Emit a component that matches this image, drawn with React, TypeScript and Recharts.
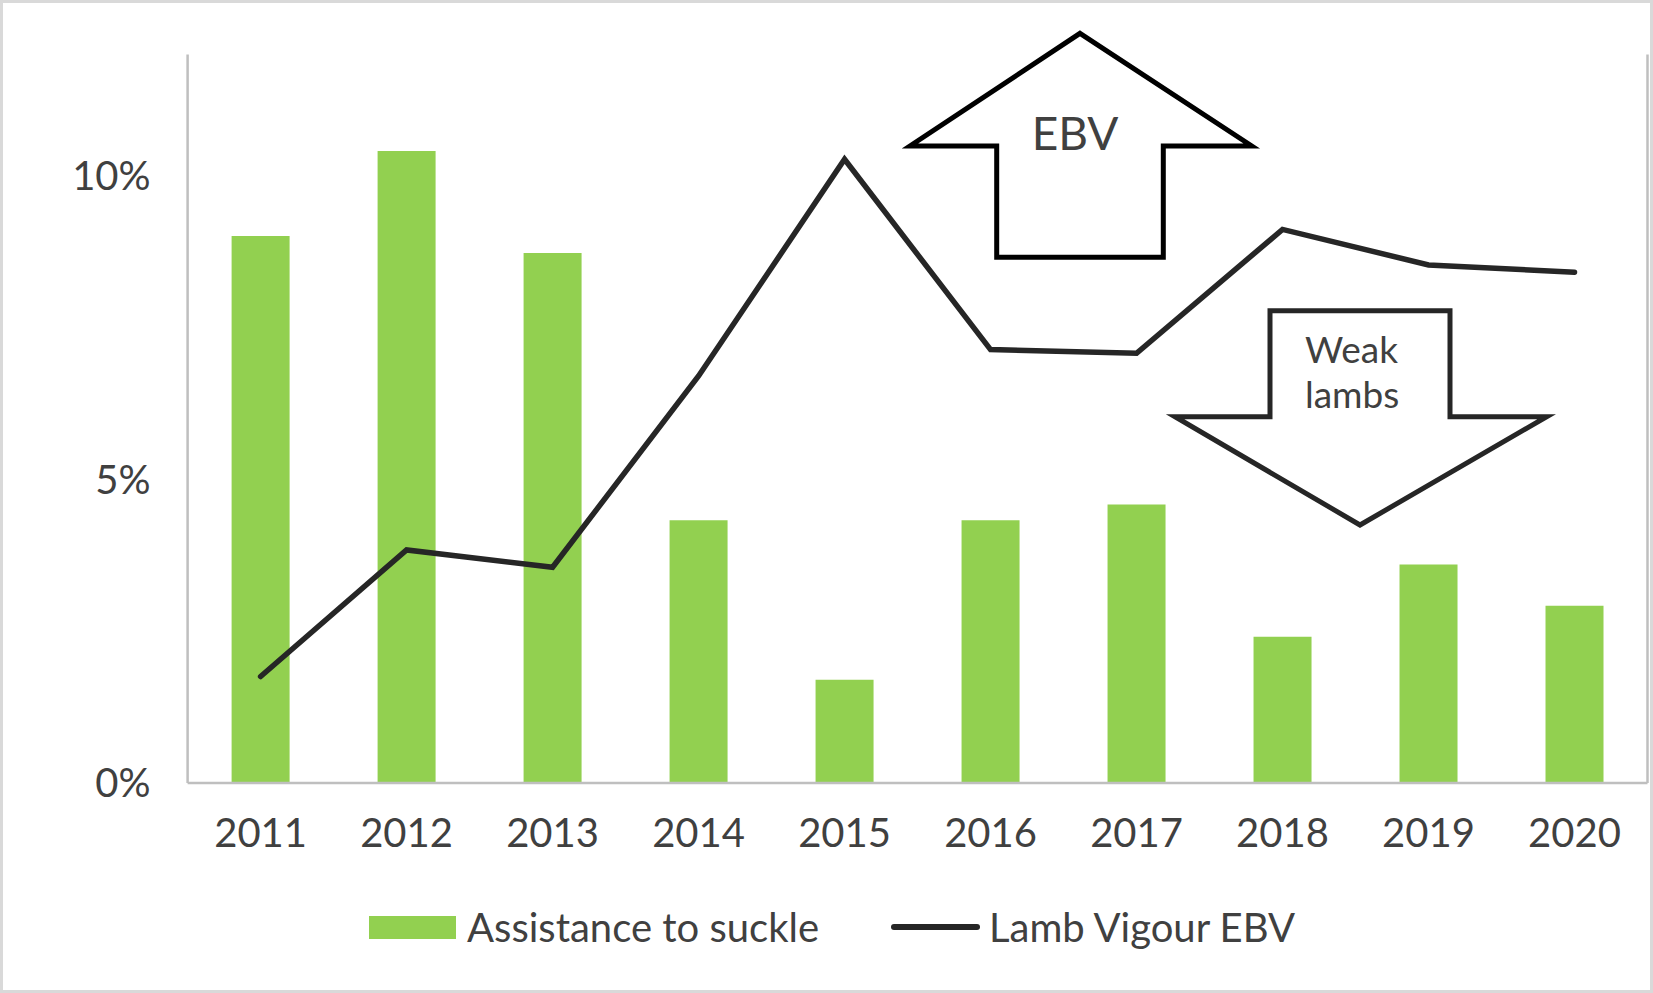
import React from 'react';
import { ComposedChart, Bar, Line, XAxis, YAxis, Legend } from 'recharts';

const years = ['2011', '2012', '2013', '2014', '2015', '2016', '2017', '2018', '2019', '2020'];
// % of lambs needing assistance to suckle
const assistanceToSuckle = [9.01, 10.41, 8.73, 4.33, 1.7, 4.33, 4.59, 2.41, 3.6, 2.92];
// lamb vigour EBV, plotted on an unlabelled right axis
const lambVigourEbv = [1.17, 2.56, 2.37, 4.47, 6.85, 4.76, 4.72, 6.08, 5.69, 5.61];
const pctTicks = [0, 5, 10];
const ebvTicks = [0, 1, 2, 3, 4, 5, 6, 7, 8];

const GREEN = '#92D050';
const DARK = '#262626';
const TEXT = '#404040';
const AXIS = '#BFBFBF';
const FONT = 'Lato, "Open Sans", sans-serif';

const data = years.map((year, i) => ({
  year,
  assist: assistanceToSuckle[i],
  ebv: lambVigourEbv[i],
}));

const renderLegend = () => (
  <div style={{ position: 'relative', height: 88, fontFamily: FONT, fontSize: 40, color: TEXT }}>
    <span style={{ position: 'absolute', left: 369, top: 32.5, width: 87, height: 23, background: GREEN }} />
    <span style={{ position: 'absolute', left: 467, top: 0, height: 88, lineHeight: '88px', whiteSpace: 'nowrap' }}>
      Assistance to suckle
    </span>
    <span style={{ position: 'absolute', left: 891, top: 41, width: 89, height: 6, background: DARK, borderRadius: 3 }} />
    <span style={{ position: 'absolute', left: 989, top: 0, height: 88, lineHeight: '88px', whiteSpace: 'nowrap' }}>
      Lamb Vigour EBV
    </span>
  </div>
);

export default function App() {
  return (
    <div style={{ position: 'absolute', left: 0, top: 0, width: 1653, height: 993, background: '#fff' }}>
      <ComposedChart
        width={1653}
        height={993}
        data={data}
        margin={{ top: 54.6, right: 1.5, left: 37.6, bottom: 22 }}
        style={{ fontFamily: FONT }}
      >
        <XAxis
          dataKey="year"
          axisLine={{ stroke: AXIS, strokeWidth: 2.5 }}
          tickLine={false}
          tickSize={0}
          tickMargin={35.6}
          height={100}
          tick={{ fill: TEXT, fontSize: 40, fontFamily: FONT }}
          interval={0}
        />
        <YAxis
          yAxisId="left"
          domain={[0, 12]}
          ticks={pctTicks}
          tickFormatter={(v) => `${v}%`}
          width={150}
          axisLine={{ stroke: AXIS, strokeWidth: 2.5 }}
          tickLine={false}
          tickSize={0}
          tickMargin={37}
          tick={{ fill: TEXT, fontSize: 40, fontFamily: FONT }}
        />
        <YAxis
          yAxisId="right"
          orientation="right"
          domain={[0, 8]}
          ticks={ebvTicks}
          width={4}
          axisLine={{ stroke: AXIS, strokeWidth: 2.5 }}
          tickLine={{ stroke: AXIS, strokeWidth: 1.5 }}
          tickSize={3}
          tick={false}
        />
        <Legend verticalAlign="bottom" content={renderLegend} wrapperStyle={{ left: 0, width: 1653 }} />
        <Bar yAxisId="left" dataKey="assist" name="Assistance to suckle" fill={GREEN} barSize={58} isAnimationActive={false} />
        <Line
          yAxisId="right"
          type="linear"
          dataKey="ebv"
          name="Lamb Vigour EBV"
          stroke={DARK}
          strokeWidth={5.5}
          strokeLinecap="round"
          dot={false}
          activeDot={false}
          isAnimationActive={false}
        />
      </ComposedChart>
      <svg
        width={1653}
        height={993}
        style={{ position: 'absolute', left: 0, top: 0, pointerEvents: 'none' }}
      >
        <polygon
          points="1080,33.3 1251.7,146 1163.3,146 1163.3,257.3 996.7,257.3 996.7,146 910,146"
          fill="#fff"
          stroke="#000"
          strokeWidth={5}
        />
        <text x={1031.7} y={150} fontSize={46} fill={TEXT} fontFamily={FONT}>EBV</text>
        <polygon
          points="1270,310.7 1450,310.7 1450,416.7 1546.7,416.7 1360,525 1175,416.7 1270,416.7"
          fill="#fff"
          stroke={DARK}
          strokeWidth={5}
        />
        <text x={1305} y={363} fontSize={37} fill={TEXT} fontFamily={FONT}>Weak</text>
        <text x={1305} y={408} fontSize={37} fill={TEXT} fontFamily={FONT}>lambs</text>
      </svg>
      <div
        style={{
          position: 'absolute',
          left: 0,
          top: 0,
          width: 1653,
          height: 993,
          boxSizing: 'border-box',
          border: '3px solid #D9D9D9',
          pointerEvents: 'none',
        }}
      />
    </div>
  );
}
